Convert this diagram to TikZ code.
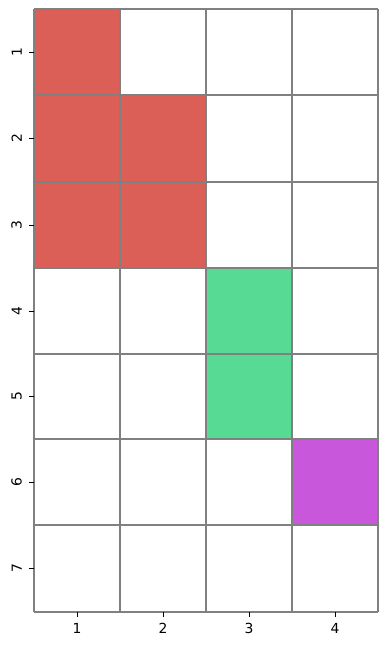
\documentclass[tikz,border=0pt]{standalone}
\usepackage{fontspec}
\setmainfont{DejaVu Sans}
\definecolor{gridgray}{HTML}{808080}
\definecolor{hlsred}{HTML}{DB5F57}
\definecolor{hlsgreen}{HTML}{57DB94}
\definecolor{hlspurple}{HTML}{C957DB}

\begin{document}
\begin{tikzpicture}[
  x=0.72pt, y=-0.72pt,
  font=\fontsize{10}{12}\selectfont,
  cell/.style={fill=white, minimum width=61.92pt, inner sep=0pt, outer sep=0pt},
  gridline/.style={draw=gridgray, line width=1.1pt},
  tickmark/.style={draw=black, line width=0.6pt},
  ticklabel/.style={inner sep=0pt}
]
\useasboundingbox (0,0) rectangle (388,647);

% plain cells, rows with their top and bottom edges
\foreach \r/\top/\bot in {1/9/95, 2/95/182, 3/182/268, 4/268/354, 5/354/439, 6/439/525, 7/525/612}
  \foreach \c in {1,...,4}
    \node[cell, minimum height={(\bot-\top)*0.72pt}] (c\r\c) at ({77+86*(\c-1)}, {(\top+\bot)/2}) {};

% occupied cells
\foreach \r/\c/\col in {1/1/hlsred, 2/1/hlsred, 2/2/hlsred, 3/1/hlsred, 3/2/hlsred,
                        4/3/hlsgreen, 5/3/hlsgreen, 6/4/hlspurple}
  \fill[\col] (c\r\c.south west) rectangle (c\r\c.north east);

% grid lines on top
\foreach \r in {1,...,7}
  \draw[gridline] (c\r1.north west) -- (c\r4.north east);
\draw[gridline] (c71.south west) -- (c74.south east);
\foreach \c in {1,...,4}
  \draw[gridline] (c1\c.north west) -- (c7\c.south west);
\draw[gridline] (c14.north east) -- (c74.south east);

% x axis
\foreach \c in {1,...,4} {
  \coordinate (xt\c) at ([yshift=-3.5pt]c7\c.south);
  \draw[tickmark] (c7\c.south) -- (xt\c);
  \node[ticklabel, anchor=north] (xl\c) at ([yshift=-4.3pt]xt\c) {\c};
}

% y axis
\foreach \r in {1,...,7} {
  \coordinate (yt\r) at ([xshift=-3.5pt]c\r1.west);
  \draw[tickmark] (c\r1.west) -- (yt\r);
  \node[ticklabel, rotate=90, anchor=south] (yl\r) at ([xshift=-5pt]yt\r) {\r};
}
\end{tikzpicture}
\end{document}
